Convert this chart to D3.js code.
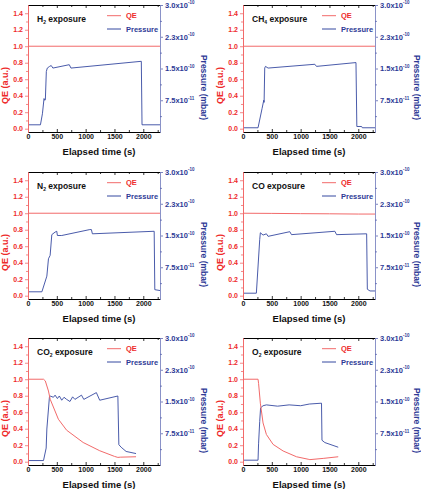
<!DOCTYPE html>
<html>
<head>
<meta charset="utf-8">
<script src="https://cdn.jsdelivr.net/npm/d3@7"></script>
<style>
  body { margin: 0; background: #fff; }
  text { font-family: "Liberation Sans", Arial, sans-serif; font-weight: bold; }
</style>
</head>
<body>
<div id="chart"></div>
<script>
// panel titles (gas, subscript)
const gasNames = ["H", "CH", "N", "CO", "CO", "O"];
const gasSubs = ["2", "4", "2", "", "2", "2"];

// tick values
const qeTicks = [0, 0.2, 0.4, 0.6, 0.8, 1.0, 1.2, 1.4];
const timeTicks = [0, 500, 1000, 1500, 2000];
const pressureTicks = [0.75e-10, 1.5e-10, 2.25e-10, 3.0e-10];

// data: [elapsed time (s), value]
const h2QE = [[0, 1.0], [2290, 1.0]];
const h2Pressure = [[0, 0.17e-10], [216, 0.17e-10], [250, 0.43e-10], [278, 0.79e-10], [290, 0.75e-10], [301, 0.76e-10],
  [318, 1.43e-10], [335, 1.51e-10], [375, 1.55e-10], [403, 1.57e-10], [432, 1.51e-10], [716, 1.59e-10],
  [745, 1.51e-10], [1966, 1.67e-10], [1978, 0.17e-10], [2290, 0.17e-10]];

const ch4QE = [[0, 1.0], [2290, 1.0]];
const ch4Pressure = [[0, 0.10e-10], [261, 0.10e-10], [330, 0.55e-10], [360, 0.75e-10], [366, 0.70e-10], [377, 1.51e-10],
  [390, 1.55e-10], [435, 1.51e-10], [1246, 1.60e-10], [1275, 1.55e-10], [1960, 1.64e-10], [1975, 0.13e-10],
  [2058, 0.13e-10], [2070, 0.10e-10], [2290, 0.10e-10]];

const n2QE = [[0, 1.0], [2290, 1.0]];
const n2Pressure = [[0, 0.17e-10], [241, 0.17e-10], [327, 0.54e-10], [355, 0.95e-10], [384, 1.03e-10], [413, 1.52e-10],
  [470, 1.58e-10], [499, 1.60e-10], [510, 1.50e-10], [585, 1.50e-10], [1072, 1.64e-10], [1100, 1.64e-10],
  [1117, 1.54e-10], [2189, 1.60e-10], [2200, 0.22e-10], [2290, 0.20e-10]];

const coQE = [[0, 1.0], [500, 0.998], [1000, 0.995], [1500, 0.993], [2000, 0.99], [2290, 0.99]];
const coPressure = [[0, 0.137e-10], [232, 0.137e-10], [290, 1.4e-10], [301, 1.565e-10], [348, 1.51e-10], [406, 1.54e-10],
  [435, 1.48e-10], [812, 1.59e-10], [841, 1.52e-10], [1594, 1.60e-10], [1623, 1.52e-10], [2145, 1.54e-10],
  [2157, 0.23e-10], [2203, 0.19e-10], [2290, 0.19e-10]];

const co2QE = [[0, 1.0], [269, 1.0], [300, 0.98], [355, 0.857], [385, 0.757], [527, 0.515], [670, 0.382], [957, 0.233],
  [1244, 0.133], [1502, 0.064], [1559, 0.052], [1600, 0.055], [1874, 0.06]];
const co2Pressure = [[0, 0.105e-10], [269, 0.105e-10], [315, 0.40e-10], [327, 0.85e-10], [372, 1.61e-10], [384, 1.63e-10],
  [441, 1.60e-10], [470, 1.65e-10], [510, 1.57e-10], [544, 1.63e-10], [585, 1.53e-10], [625, 1.60e-10],
  [670, 1.55e-10], [728, 1.50e-10], [774, 1.61e-10], [814, 1.55e-10], [928, 1.65e-10], [968, 1.55e-10],
  [1186, 1.71e-10], [1244, 1.53e-10], [1559, 1.63e-10], [1576, 0.48e-10], [1616, 0.42e-10], [1702, 0.32e-10],
  [1874, 0.27e-10]];

const o2QE = [[0, 1.0], [261, 1.0], [270, 0.95], [301, 0.71], [348, 0.47], [406, 0.33], [522, 0.21], [696, 0.13],
  [928, 0.06], [1130, 0.03], [1160, 0.025], [1391, 0.04], [1652, 0.06]];
const o2Pressure = [[0, 0.114e-10], [261, 0.114e-10], [270, 0.5e-10], [290, 1.03e-10], [305, 1.35e-10], [348, 1.40e-10],
  [406, 1.42e-10], [600, 1.39e-10], [800, 1.42e-10], [1000, 1.40e-10], [1150, 1.44e-10], [1362, 1.46e-10],
  [1370, 0.585e-10], [1420, 0.53e-10], [1652, 0.42e-10]];

const qeSeries = [h2QE, ch4QE, n2QE, coQE, co2QE, o2QE];
const pressureSeries = [h2Pressure, ch4Pressure, n2Pressure, coPressure, co2Pressure, o2Pressure];

// colours
const qeColor = "#f26a6a";
const qeText = "#ee2a2a";
const pColor = "#3548a0";
const pText = "#2e3a96";

// layout
const colLeft = [28, 243];
const rowTop = [5, 172, 338];
const pw = 132, ph = 127;

const svg = d3.select("#chart")
  .append("svg")
    .attr("width", 421)
    .attr("height", 489);

const x = d3.scaleLinear().domain([0, 2290]).range([0, pw]);
const yQE = d3.scaleLinear().domain([-0.04, 1.5]).range([ph, 0]);
const yP = d3.scaleLinear().domain([0, 3.0e-10]).range([ph, 0]);

const qeLine = d3.line().x(d => x(d[0])).y(d => yQE(d[1]));
const pLine = d3.line().x(d => x(d[0])).y(d => yP(d[1]));

function pLabel(sel, v) {
  const e = Math.floor(Math.log10(v) + 1e-9);
  const m = Math.round(v / Math.pow(10, e) * 10) / 10;
  sel.text(m.toFixed(1) + "x10");
  sel.append("tspan").attr("dy", -3.5).attr("font-size", "4.5px").text(e);
}

function drawPanel(i) {
  const col = i % 2, row = Math.floor(i / 2);
  const g = svg.append("g")
    .attr("transform", `translate(${colLeft[col]},${rowTop[row]})`);

  g.append("clipPath").attr("id", "clip" + i)
    .append("rect").attr("width", pw).attr("height", ph);

  // lines
  g.append("path")
    .datum(pressureSeries[i])
    .attr("d", pLine)
    .attr("fill", "none")
    .attr("stroke", pColor)
    .attr("stroke-width", 0.9)
    .attr("clip-path", `url(#clip${i})`);

  g.append("path")
    .datum(qeSeries[i])
    .attr("d", qeLine)
    .attr("fill", "none")
    .attr("stroke", qeColor)
    .attr("stroke-width", 1)
    .attr("clip-path", `url(#clip${i})`);

  // bottom axis, ticks inward
  const bottom = g.append("g")
    .attr("transform", `translate(0,${ph})`)
    .call(d3.axisBottom(x).tickValues(timeTicks).tickFormat(d3.format("d")).tickSize(-3).tickSizeOuter(0).tickPadding(2.5));
  bottom.selectAll("text").attr("font-size", "7px").attr("fill", "#111").attr("font-family", null);
  g.append("g")
    .attr("transform", `translate(0,${ph})`)
    .call(d3.axisBottom(x).tickValues(d3.range(250, 2290, 500)).tickSize(-2).tickSizeOuter(0).tickFormat(""));

  // top axis, ticks inward
  g.append("g")
    .call(d3.axisTop(x).tickValues(timeTicks).tickSize(-3).tickSizeOuter(0).tickFormat(""));
  g.append("g")
    .call(d3.axisTop(x).tickValues(d3.range(250, 2290, 500)).tickSize(-2).tickSizeOuter(0).tickFormat(""));

  // left axis
  const left = g.append("g")
    .call(d3.axisLeft(yQE).tickValues(qeTicks).tickFormat(d3.format(".1f")).tickSize(3).tickSizeOuter(0).tickPadding(2));
  left.selectAll("text").attr("font-size", "7px").attr("fill", qeText).attr("font-family", null);
  left.select(".domain").attr("stroke", qeColor);
  left.selectAll("line").attr("stroke", qeColor);
  const leftMinor = g.append("g")
    .call(d3.axisLeft(yQE).tickValues(d3.range(0.1, 1.5, 0.2)).tickSize(2).tickSizeOuter(0).tickFormat(""));
  leftMinor.select(".domain").attr("stroke", qeColor);
  leftMinor.selectAll("line").attr("stroke", qeColor);

  // right axis
  const right = g.append("g")
    .attr("transform", `translate(${pw},0)`)
    .call(d3.axisRight(yP).tickValues(pressureTicks).tickSize(3).tickSizeOuter(0).tickPadding(2).tickFormat(""));
  right.selectAll(".tick text")
    .attr("font-size", "7.5px")
    .attr("fill", pText)
    .attr("font-family", null)
    .each(function(d) { pLabel(d3.select(this), d); });
  right.select(".domain").attr("stroke", "#8a92c8");
  right.selectAll("line").attr("stroke", "#5a66b0");
  const rightMinor = g.append("g")
    .attr("transform", `translate(${pw},0)`)
    .call(d3.axisRight(yP).tickValues([0.375e-10, 1.125e-10, 1.875e-10, 2.625e-10]).tickSize(2).tickSizeOuter(0).tickFormat(""));
  rightMinor.select(".domain").attr("stroke", "#8a92c8");
  rightMinor.selectAll("line").attr("stroke", "#5a66b0");

  // axis titles
  g.append("text")
    .attr("x", pw / 2 + (col === 0 ? 5 : 0))
    .attr("y", ph + 23)
    .attr("text-anchor", "middle")
    .attr("font-size", "9.5px")
    .attr("fill", "#111")
    .text("Elapsed time (s)");

  g.append("text")
    .attr("transform", `translate(${-20.5},${ph / 2 + 17}) rotate(-90)`)
    .attr("text-anchor", "middle")
    .attr("font-size", "9px")
    .attr("fill", qeText)
    .text("QE (a.u.)");

  g.append("text")
    .attr("transform", `translate(${pw + (col === 0 ? 41 : 38.5)},${ph / 2 + 19}) rotate(90)`)
    .attr("text-anchor", "middle")
    .attr("font-size", "8.5px")
    .attr("fill", pText)
    .text("Pressure (mbar)");

  // panel title
  const title = g.append("text")
    .attr("x", 9)
    .attr("y", 16.5)
    .attr("font-size", "8.5px")
    .attr("fill", "#111")
    .text(gasNames[i]);
  if (gasSubs[i] !== "") {
    title.append("tspan").attr("dy", 2).attr("font-size", "5px").text(gasSubs[i]);
    title.append("tspan").attr("dy", -2).text(" exposure");
  } else {
    title.append("tspan").text(" exposure");
  }

  // legend
  const legend = [["QE", qeColor, qeText, 10.7], ["Pressure", pColor, pText, 24]];
  legend.forEach(l => {
    g.append("line")
      .attr("x1", 79).attr("x2", 93)
      .attr("y1", l[3]).attr("y2", l[3])
      .attr("stroke", l[1])
      .attr("stroke-width", 1);
    g.append("text")
      .attr("x", 98)
      .attr("y", l[3] + 2.6)
      .attr("font-size", "7.5px")
      .attr("fill", l[2])
      .text(l[0]);
  });

  g.selectAll(".domain").attr("stroke-width", 1);
  g.selectAll(".tick line").attr("stroke-width", 0.8);
}

for (let i = 0; i < 6; i++) drawPanel(i);
</script>
</body>
</html>
